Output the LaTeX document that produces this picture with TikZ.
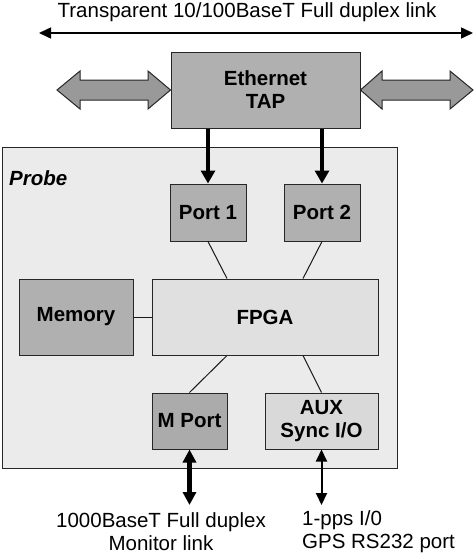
\documentclass[tikz,border=0pt]{standalone}
\usepackage{fontspec}
\setmainfont{Liberation Sans}
\usetikzlibrary{arrows.meta, positioning}

\tikzset{
  txt/.style={font=\fontsize{20.5}{23}\selectfont, inner sep=0pt},
  box/.style={draw=black!85, line width=1pt, align=center, inner sep=0pt,
    font=\fontsize{20.5}{23}\selectfont\bfseries},
  darkbox/.style={box, fill=black!31},
  lightbox/.style={box, fill=black!11},
  blockarrow/.style={draw=black!85, line width=1pt, fill=black!40, line join=miter},
  fat/.style={line width=4.5pt, -{Triangle[length=13pt,width=14pt]}},
  fatboth/.style={line width=4.5pt, {Triangle[length=13pt,width=13pt]}-{Triangle[length=13pt,width=13pt]}},
  thinboth/.style={line width=2pt, {Triangle[length=12pt,width=11pt]}-{Triangle[length=12pt,width=11pt]}},
  wire/.style={line width=1pt, black!90}
}

\begin{document}
\begin{tikzpicture}[x=1pt, y=-1pt]
  \useasboundingbox (0,0) rectangle (474,554);

  % probe enclosure
  \node[box, fill=black!8, minimum width=395pt, minimum height=321pt] (probe) at (199.5,307.5) {};
  \node[txt, font=\fontsize{20.5}{23}\selectfont\bfseries\itshape, anchor=west] (probelabel) at (9,178) {Probe};

  % top link
  \node[txt] (linklabel) at (247,12) {Transparent 10/100BaseT Full duplex link};
  \coordinate (linkL) at (39,33);
  \coordinate (linkR) at (473,33);
  \draw[line width=1.5pt, {Triangle[length=12pt,width=11pt]}-{Triangle[length=12pt,width=11pt]}] (linkL) -- (linkR);

  % tap and ports
  \node[darkbox, minimum width=189pt, minimum height=76pt] (tap) at (265.5,90) {Ethernet\\TAP};
  \node[darkbox, minimum width=76pt, minimum height=57pt] (port1) at (208,212.5) {Port 1};
  \node[darkbox, minimum width=76pt, minimum height=57pt, right=37pt of port1] (port2) {Port 2};
  \node[lightbox, fill=black!12, minimum width=226pt, minimum height=76pt] (fpga) at (265,317) {FPGA};
  \node[darkbox, minimum width=114pt, minimum height=76pt] (memory) at (76,317) {Memory};
  \node[darkbox, fill=black!33, minimum width=75pt, minimum height=56pt] (mport) at (189.5,421) {M Port};
  \node[lightbox, fill=black!15, minimum width=113pt, minimum height=56pt] (aux) at (321.5,421) {AUX\\Sync I/O};

  % block arrows on the link
  \draw[blockarrow] (tap.west) -- (148,71) -- (148,80) -- (80,80) -- (80,71) -- (57,90)
    -- (80,109) -- (80,100) -- (148,100) -- (148,109) -- cycle;
  \draw[blockarrow] (tap.east) -- (382,71) -- (382,80) -- (450,80) -- (450,71) -- (473,90)
    -- (450,109) -- (450,100) -- (382,100) -- (382,109) -- cycle;

  % tap to ports
  \draw[fat] (tap.south -| port1) -- (port1.north);
  \draw[fat] (tap.south -| port2) -- (port2.north);

  % internal wiring
  \draw[wire] (port1.south) -- ([xshift=-38pt]fpga.north);
  \draw[wire] (port2.south) -- ([xshift=38pt]fpga.north);
  \draw[wire] (memory.east) -- (fpga.west);
  \draw[wire] ([xshift=-38pt]fpga.south) -- (mport.north);
  \draw[wire] ([xshift=38pt]fpga.south) -- (aux.north);

  % outside links
  \coordinate (mlink) at (189.5,505);
  \coordinate (auxlink) at (321.5,505);
  \draw[fatboth] (mport.south) -- (mlink);
  \draw[thinboth] (aux.south) -- (auxlink);
  \node[txt, align=center] (mlabel) at (161,532) {1000BaseT Full duplex\\Monitor link};
  \node[txt, align=left, anchor=west] (auxlabel) at (302,532) {1-pps I/0\\GPS RS232 port};
\end{tikzpicture}
\end{document}
